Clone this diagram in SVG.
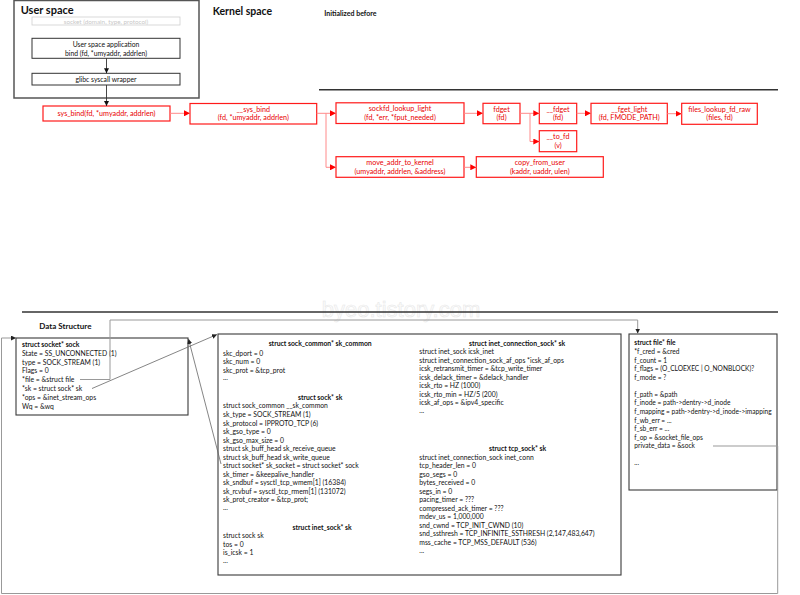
<svg xmlns="http://www.w3.org/2000/svg" width="800" height="595" viewBox="0 0 800 595">
<style>
text{font-family:Lato,"Liberation Sans",sans-serif;}
.t{font-size:6.8px;fill:#111}
.f{font-size:6.6px}
.c{text-anchor:middle}
.b{font-weight:bold}
.r{font-size:7.2px;fill:#e80000;text-anchor:middle}
.rb{fill:#fff;stroke:#ff1a1a;stroke-width:1.2}
.bx{fill:#fff;stroke:#333;stroke-width:1}
.ds{fill:#fff;stroke:#3a3a3a;stroke-width:1.1}
.rc{stroke:#ff8a8a;fill:none;stroke-width:1}
.kc{stroke:#333;fill:none;stroke-width:0.9}
.gc{stroke:#666;fill:none;stroke-width:0.8}
.lc{stroke:#999;fill:none;stroke-width:1}
.hr{stroke:#333;stroke-width:1.6}
</style>
<defs>
<marker id="ar" viewBox="0 0 6 6" refX="6" refY="3" markerWidth="6" markerHeight="6" markerUnits="userSpaceOnUse" orient="auto"><path d="M0,0 L6,3 L0,6 z" fill="#ff0000"/></marker>
<marker id="ak" viewBox="0 0 6 6" refX="6" refY="3" markerWidth="5" markerHeight="5" markerUnits="userSpaceOnUse" orient="auto"><path d="M0,0 L6,3 L0,6 z" fill="#111"/></marker>
<marker id="ag" viewBox="0 0 6 6" refX="6" refY="3" markerWidth="5" markerHeight="5" markerUnits="userSpaceOnUse" orient="auto"><path d="M0,0 L6,3 L0,6 z" fill="#222"/></marker>
</defs>
<rect width="800" height="595" fill="#fff"/>

<text x="401" y="317" text-anchor="middle" style="font-family:'Liberation Sans',sans-serif;font-size:22px;fill:#fcfcfc;stroke:#e6e6e6;stroke-width:0.5">byeo.tistory.com</text>

<line class="hr" x1="319" y1="89.7" x2="778" y2="89.7"/>
<line class="hr" x1="22" y1="312" x2="778" y2="312"/>

<g id="user-space">
<rect x="14" y="0.5" width="185" height="97.5" fill="#fff" stroke="#555" stroke-width="1.5"/>
<text x="20.7" y="14" class="b" style="font-size:11px;fill:#111">User space</text>
</g>
<text x="212.7" y="15" class="b" style="font-size:10.5px;fill:#111">Kernel space</text>
<text x="324.3" y="15.5" class="b" style="font-size:7px;fill:#111">Initialized before</text>
<text x="39.3" y="328.5" class="b" style="font-size:8px;fill:#111">Data Structure</text>

<g id="socket-call">
<rect x="32" y="17" width="148" height="8" fill="#fff" stroke="#cfcfcf" stroke-width="0.8"/>
<text x="106" y="23.5" class="c" style="font-size:6.3px;fill:#c8c8c8">socket (domain, type, protocol)</text>
</g>
<g id="user-app">
<rect class="bx" x="32" y="38.3" width="148" height="20"/>
<text x="106" y="47" class="t c">User space application</text>
<text x="106" y="55.5" class="t c">bind (fd, *umyaddr, addrlen)</text>
</g>
<g id="glibc">
<rect class="bx" x="32" y="73.3" width="148" height="11.7"/>
<text x="106" y="81.6" class="t c">glibc syscall wrapper</text>
</g>

<g id="sys_bind">
<rect class="rb" x="43" y="106" width="127" height="15"/>
<text x="106.5" y="116" class="r">sys_bind(fd, *umyaddr, addrlen)</text>
</g>
<g id="__sys_bind">
<rect class="rb" x="190" y="103.5" width="126.7" height="20.5"/>
<text x="253.3" y="111.5" class="r">__sys_bind</text>
<text x="253.3" y="120" class="r">(fd, *umyaddr, addrlen)</text>
</g>
<g id="sockfd_lookup_light">
<rect class="rb" x="336" y="102.8" width="128" height="20.7"/>
<text x="400" y="111.3" class="r">sockfd_lookup_light</text>
<text x="400" y="120" class="r">(fd, *err, *fput_needed)</text>
</g>
<g id="move_addr_to_kernel">
<rect class="rb" x="336" y="156.7" width="128" height="20.6"/>
<text x="400" y="165" class="r">move_addr_to_kernel</text>
<text x="400" y="173.6" class="r">(umyaddr, addrlen, &amp;address)</text>
</g>
<g id="copy_from_user">
<rect class="rb" x="476.3" y="156.7" width="127" height="20.6"/>
<text x="539.8" y="165" class="r">copy_from_user</text>
<text x="539.8" y="173.6" class="r">(kaddr, uaddr, ulen)</text>
</g>
<g id="fdget">
<rect class="rb" x="483" y="103.3" width="37" height="20.4"/>
<text x="501.5" y="111.5" class="r">fdget</text>
<text x="501.5" y="120" class="r">(fd)</text>
</g>
<g id="__fdget">
<rect class="rb" x="539.3" y="103.3" width="37.4" height="20.4"/>
<text x="558" y="111.5" class="r">__fdget</text>
<text x="558" y="120" class="r">(fd)</text>
</g>
<g id="__to_fd">
<rect class="rb" x="539.3" y="130.7" width="37.4" height="21"/>
<text x="558" y="139" class="r">__to_fd</text>
<text x="558" y="147.7" class="r">(v)</text>
</g>
<g id="__fget_light">
<rect class="rb" x="591" y="103.3" width="76.3" height="20.4"/>
<text x="629.2" y="111.5" class="r">__fget_light</text>
<text x="629.2" y="120" class="r">(fd, FMODE_PATH)</text>
</g>
<g id="files_lookup_fd_raw">
<rect class="rb" x="681.7" y="103.3" width="75.6" height="21"/>
<text x="719.5" y="111.5" class="r">files_lookup_fd_raw</text>
<text x="719.5" y="120" class="r">(files, fd)</text>
</g>

<g id="struct-socket">
<rect class="ds" x="16" y="338" width="172" height="77"/>
<text class="t" x="22">
<tspan x="22" y="347" class="b">struct socket* sock</tspan>
<tspan x="22" y="355.8">State = SS_UNCONNECTED (1)</tspan>
<tspan x="22" y="364.6">type = SOCK_STREAM (1)</tspan>
<tspan x="22" y="373.4">Flags = 0</tspan>
<tspan x="22" y="382.2">*file = &amp;struct file</tspan>
<tspan x="22" y="391">*sk = struct sock* sk</tspan>
<tspan x="22" y="399.8">*ops = &amp;inet_stream_ops</tspan>
<tspan x="22" y="408.6">Wq = &amp;wq</tspan>
</text>
</g>

<g id="struct-sock">
<rect class="ds" x="218" y="334" width="403" height="241"/>
<text class="t" x="223">
<tspan x="321" y="346.3" class="b" text-anchor="middle">struct sock_common* sk_common</tspan>
<tspan x="223" y="355.7">skc_dport = 0</tspan>
<tspan x="223" y="364.3">skc_num = 0</tspan>
<tspan x="223" y="372.7">skc_prot = &amp;tcp_prot</tspan>
<tspan x="223" y="380">...</tspan>
<tspan x="321" y="400" class="b" text-anchor="middle">struct sock* sk</tspan>
<tspan x="223" y="408.4">struct sock_common __sk_common</tspan>
<tspan x="223" y="417">sk_type = SOCK_STREAM (1)</tspan>
<tspan x="223" y="425.5">sk_protocol = IPPROTO_TCP (6)</tspan>
<tspan x="223" y="434">sk_gso_type = 0</tspan>
<tspan x="223" y="442.5">sk_gso_max_size = 0</tspan>
<tspan x="223" y="451">struct sk_buff_head sk_receive_queue</tspan>
<tspan x="223" y="459.5">struct sk_buff_head sk_write_queue</tspan>
<tspan x="223" y="468">struct socket* sk_socket = struct socket* sock</tspan>
<tspan x="223" y="476.5">sk_timer = &amp;keepalive_handler</tspan>
<tspan x="223" y="485">sk_sndbuf = sysctl_tcp_wmem[1] (16384)</tspan>
<tspan x="223" y="493.6">sk_rcvbuf = sysctl_tcp_rmem[1] (131072)</tspan>
<tspan x="223" y="502.2">sk_prot_creator = &amp;tcp_prot;</tspan>
<tspan x="223" y="510">...</tspan>
<tspan x="323" y="529.7" class="b" text-anchor="middle">struct inet_sock* sk</tspan>
<tspan x="223" y="538.2">struct sock sk</tspan>
<tspan x="223" y="546.8">tos = 0</tspan>
<tspan x="223" y="555.4">is_icsk = 1</tspan>
<tspan x="223" y="563">...</tspan>
</text>
<text class="t" x="419.3">
<tspan x="518" y="346" class="b" text-anchor="middle">struct inet_connection_sock* sk</tspan>
<tspan x="419.3" y="354.3">struct inet_sock icsk_inet</tspan>
<tspan x="419.3" y="362.8">struct inet_connection_sock_af_ops *icsk_af_ops</tspan>
<tspan x="419.3" y="371.3">icsk_retransmit_timer = &amp;tcp_write_timer</tspan>
<tspan x="419.3" y="379.8">icsk_delack_timer = &amp;delack_handler</tspan>
<tspan x="419.3" y="388.4">icsk_rto = HZ (1000)</tspan>
<tspan x="419.3" y="396.9">icsk_rto_min = HZ/5 (200)</tspan>
<tspan x="419.3" y="405.4">icsk_af_ops = &amp;ipv4_specific</tspan>
<tspan x="419.3" y="413">...</tspan>
<tspan x="518.5" y="451.3" class="b" text-anchor="middle">struct tcp_sock* sk</tspan>
<tspan x="419.3" y="459.5">struct inet_connection_sock inet_conn</tspan>
<tspan x="419.3" y="468">tcp_header_len = 0</tspan>
<tspan x="419.3" y="476.5">gso_segs = 0</tspan>
<tspan x="419.3" y="485">bytes_received = 0</tspan>
<tspan x="419.3" y="493.5">segs_in = 0</tspan>
<tspan x="419.3" y="502">pacing_timer = ???</tspan>
<tspan x="419.3" y="510.6">compressed_ack_timer = ???</tspan>
<tspan x="419.3" y="519.1">mdev_us = 1,000,000</tspan>
<tspan x="419.3" y="527.7">snd_cwnd = TCP_INIT_CWND (10)</tspan>
<tspan x="419.3" y="536.3">snd_ssthresh = TCP_INFINITE_SSTHRESH (2,147,483,647)</tspan>
<tspan x="419.3" y="544.8">mss_cache = TCP_MSS_DEFAULT (536)</tspan>
<tspan x="419.3" y="552.5">...</tspan>
</text>
</g>

<g id="struct-file">
<rect class="ds" x="629" y="334" width="148" height="156"/>
<text class="t f" x="634.3">
<tspan x="634.3" y="345.3" class="b">struct file* file</tspan>
<tspan x="634.3" y="354">*f_cred = &amp;cred</tspan>
<tspan x="634.3" y="362.7">f_count = 1</tspan>
<tspan x="634.3" y="371.3">f_flags = (O_CLOEXEC | O_NONBLOCK)?</tspan>
<tspan x="634.3" y="379.8">f_mode = ?</tspan>
<tspan x="634.3" y="396.8">f_path = &amp;path</tspan>
<tspan x="634.3" y="405.4">f_inode = path-&gt;dentry-&gt;d_inode</tspan>
<tspan x="634.3" y="414">f_mapping = path-&gt;dentry-&gt;d_inode-&gt;imapping</tspan>
<tspan x="634.3" y="422.6">f_wb_err = ...</tspan>
<tspan x="634.3" y="431.2">f_sb_err = ...</tspan>
<tspan x="634.3" y="439.8">f_op = &amp;socket_file_ops</tspan>
<tspan x="634.3" y="448.4">private_data = &amp;sock</tspan>
<tspan x="634.3" y="465">...</tspan>
</text>
</g>

<g id="connectors">
<line class="kc" x1="106.5" y1="58.3" x2="106.5" y2="73.3" marker-end="url(#ak)"/>
<line class="kc" x1="106.5" y1="85" x2="106.5" y2="106" marker-end="url(#ak)"/>
<line class="rc" x1="170" y1="113.3" x2="190" y2="113.3" marker-end="url(#ar)"/>
<polyline class="rc" points="316.7,113.3 336,113.3" marker-end="url(#ar)"/>
<polyline class="rc" points="326,113.3 326,167.3 336,167.3" marker-end="url(#ar)"/>
<line class="rc" x1="464" y1="113.3" x2="483" y2="113.3" marker-end="url(#ar)"/>
<line class="rc" x1="464" y1="167.3" x2="476.3" y2="167.3" marker-end="url(#ar)"/>
<polyline class="rc" points="520,113.3 539.3,113.3" marker-end="url(#ar)"/>
<polyline class="rc" points="530,113.3 530,141.5 539.3,141.5" marker-end="url(#ar)"/>
<line class="rc" x1="576.7" y1="113.3" x2="591" y2="113.3" marker-end="url(#ar)"/>
<line class="rc" x1="667.3" y1="113.7" x2="681.7" y2="113.7" marker-end="url(#ar)"/>
<polyline class="lc" points="80,379.5 110,379.5 110,320 637.7,320 637.7,333.5" marker-end="url(#ag)"/>
<line class="gc" x1="92" y1="388.5" x2="217" y2="334.5" marker-end="url(#ag)"/>
<line class="gc" x1="221" y1="464" x2="188.5" y2="339" marker-end="url(#ag)"/>
<polyline class="lc" points="713,446 777.7,446 777.7,593.5 1.5,593.5 1.5,338 16,338" marker-end="url(#ag)"/>
</g>
</svg>
